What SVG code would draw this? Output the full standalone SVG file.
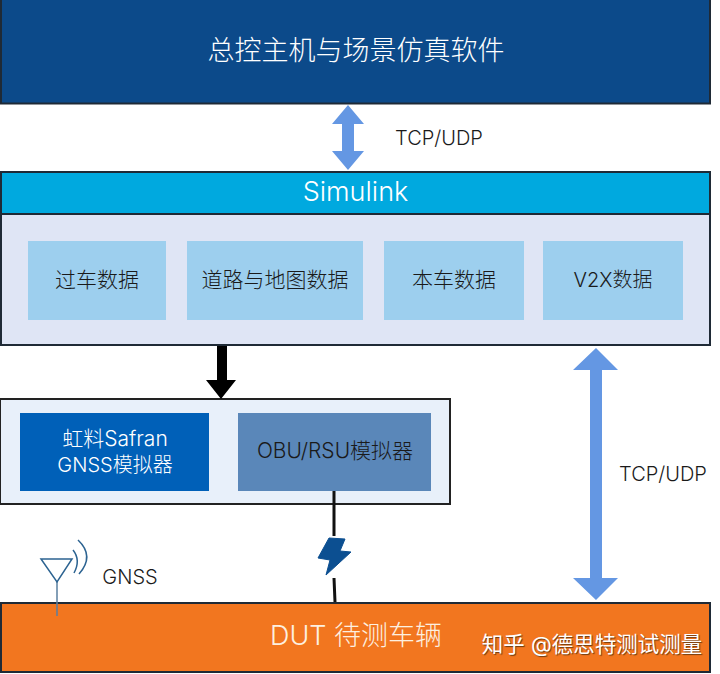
<svg xmlns="http://www.w3.org/2000/svg" width="720" height="674" viewBox="0 0 720 674">
<style>
text{font-family:Inter,"Noto Sans CJK SC",sans-serif;font-weight:300;text-anchor:middle}
.w{fill:#fff}.k{fill:#1a1a1a}
.box{stroke:#1f2a36;stroke-width:2}
.inner{fill:#9dcfee}
.t21{font-size:21px}
.t20{font-size:20px}
.blue{fill:#6497e3}
</style>
<rect width="720" height="674" fill="#fff"/>
<g id="host"><rect class="box" x="1" y="-2" width="709" height="105.500" fill="#0c4a8a"/><text class="w" x="356" y="60" font-size="27">总控主机与场景仿真软件</text></g>
<g id="simulink"><rect class="box" x="1" y="172" width="709" height="42" fill="#00a9df"/><text class="w" x="355.500" y="201" font-size="27">Simulink</text></g>
<g id="data"><rect class="box" x="1" y="214" width="709" height="131" fill="#dfe5f5"/></g>
<g id="n1"><rect class="inner" x="28" y="241" width="138" height="79"/><text class="k t21" x="97" y="287">过车数据</text></g>
<g id="n2"><rect class="inner" x="187" y="241" width="176" height="79"/><text class="k t21" x="275" y="287">道路与地图数据</text></g>
<g id="n3"><rect class="inner" x="384" y="241" width="140" height="79"/><text class="k t21" x="454" y="287">本车数据</text></g>
<g id="n4"><rect class="inner" x="543" y="241" width="140" height="79"/><text class="k t20" x="613" y="287">V2X数据</text></g>
<g id="sim"><rect x="0" y="399" width="450" height="105" fill="#e8f0fa" stroke="#222" stroke-width="2"/></g>
<g id="gnsssim"><rect x="20" y="413" width="189" height="78" fill="#0060b8"/><text class="w t21" x="115" y="446">虹料Safran</text><text class="w t20" x="115" y="472">GNSS模拟器</text></g>
<g id="obu"><rect x="238" y="413" width="193" height="78" fill="#5a87b9"/><text class="k t21" x="335" y="458">OBU/RSU模拟器</text></g>
<g id="dut"><rect class="box" x="1" y="603" width="709" height="69" fill="#f2761f"/><text x="356" y="645" font-size="27" fill="#fdf0e0">DUT 待测车辆</text></g>
<g id="connectors">
<path class="blue" d="M348 105L364 124H354V151H364L348 170L332 151H342V124H332Z"/>
<path class="blue" d="M596 348L618 370H602V578H618L596 600L573 578H590V370H573Z"/>
<path d="M217 346H227V380H236L221 399L206 380H217Z" fill="#000"/>
<path d="M334 491V536M334 578L335 602" stroke="#111" stroke-width="3" fill="none"/>
<path d="M57 582V616" stroke="#5a7f9f" stroke-width="1.500" fill="none"/>
</g>
<g id="bolt"><path d="M329 538L345 539L340 551L351 552L326 575L330 560L318 558Z" fill="#0c4f91" stroke="#0c4f91" stroke-width="1" stroke-linejoin="round"/></g>
<g id="antenna" fill="none" stroke="#2c6391" stroke-width="1.500"><path d="M73 550Q81 560 74 573"/><path d="M78 540Q95 556 79 574"/><path d="M41 559H72L57 582Z"/></g>
<text class="k t20" x="439" y="145">TCP/UDP</text>
<text class="k t20" x="663" y="481">TCP/UDP</text>
<text class="k" x="130" y="584" font-size="20">GNSS</text>
<text x="592" y="652" font-size="21.500" font-weight="400" fill="#fff" style="font-weight:400;text-shadow:1px 1px 1px #6b3a10">知乎 @德思特测试测量</text>
</svg>
